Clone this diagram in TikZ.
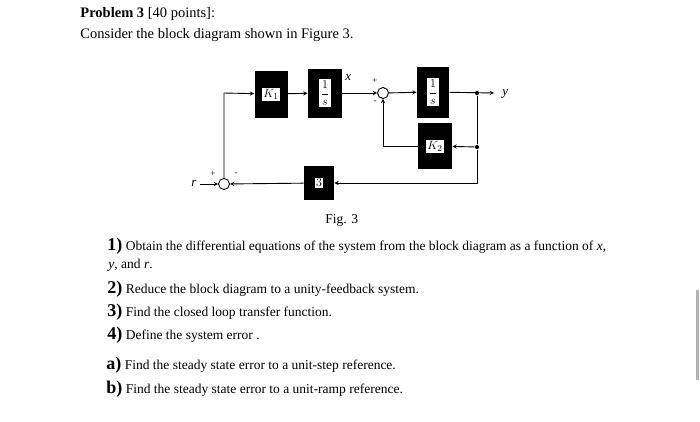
\documentclass[tikz,border=0pt]{standalone}
\usepackage{fontspec}
\setmainfont{Liberation Serif}
\usetikzlibrary{positioning}
\begin{document}
\begin{tikzpicture}
[
x=1pt, y=-1pt,
>=stealth, line width=0.9pt,
blk/.style={fill=black, inner sep=0pt, anchor=center, font=\fontsize{13}{15}\selectfont},
sumj/.style={circle, draw, minimum size=11pt, inner sep=0pt},
dot/.style={circle, fill, inner sep=1.5pt},
txt/.style={anchor=west, inner sep=0pt, font=\fontsize{13.5}{15}\selectfont},
]
\newcommand{\wbox}[1]{\setlength{\fboxsep}{1.5pt}\colorbox{white}{#1}}
\useasboundingbox (0,0) rectangle (700,421);

\node (head) [txt, font=\fontsize{14.5}{16}\selectfont] at (80,14) {\textbf{Problem 3} [40 points]:};
\node (task) [txt, font=\fontsize{14.5}{16}\selectfont] at (80,35) {Consider the block diagram shown in Figure 3.};

% blocks
\node (k1) [blk, minimum width=33pt, minimum height=47pt] at (271,94) {\wbox{$K_1$}};
\node (ia) [blk, minimum width=34pt, minimum height=49pt] at (325,93) {\wbox{$\displaystyle\frac{1}{s}$}};
\node (sb) [sumj] at (383,93) {};
\node (ib) [blk, minimum width=32pt, minimum height=51pt] at (433,92) {\wbox{$\displaystyle\frac{1}{s}$}};
\node (k2) [blk, minimum width=34pt, minimum height=46pt] at (435,146) {\wbox{$K_2$}};
\node (th) [blk, minimum width=30pt, minimum height=34pt] at (319,183) {\wbox{$3$}};
\node (sa) [sumj] at (224,184) {};
\node (py) [dot] at (477,93) {};
\node (pk) [dot] at (477,147) {};
\coordinate (rin) at (200,184);
\coordinate (yout) at (494,93);

% connectors
\draw [->] (rin) -- (sa);
\draw [->] (sa) -- (224,93) -- (k1);
\draw [->] (k1) -- (ia);
\draw [->] (ia) -- (sb);
\draw [->] (sb) -- (ib);
\draw [->] (ib) -- (yout);
\draw (py) -- (pk);
\draw [->] (pk) -- (k2);
\draw [->] (k2.west) -| (sb);
\draw [->] (pk) |- (th);
\draw [->] (th) -- (sa);

% labels
\node [txt, font=\fontsize{13}{15}\selectfont\itshape] at (502,94) {y};
\node [txt, font=\fontsize{13}{15}\selectfont\itshape] at (345,78) {x};
\node [font=\small] at (375,81) {+};
\node [font=\small] at (375,102) {-};
\node [txt, font=\fontsize{13}{15}\selectfont\itshape] at (191,183) {r};
\node [font=\small] at (213,174) {+};
\node [font=\small] at (236,174) {-};

\node (fig) [txt] at (325,220) {Fig. 3};

\node (q1) [txt] at (107,246) {\textbf{\fontsize{18}{20}\selectfont 1)} Obtain the differential equations of the system from the block diagram as a function of \textit{x},};
\node (q1b) [txt] at (108,265) {\textit{y}, and \textit{r}.};
\node (q2) [txt] at (107,289) {\textbf{\fontsize{18}{20}\selectfont 2)} Reduce the block diagram to a unity-feedback system.};
\node (q3) [txt] at (107,312) {\textbf{\fontsize{18}{20}\selectfont 3)} Find the closed loop transfer function.};
\node (q4) [txt] at (107,335) {\textbf{\fontsize{18}{20}\selectfont 4)} Define the system error .};
\node (qa) [txt] at (106,365) {\textbf{\fontsize{18}{20}\selectfont a)} Find the steady state error to a unit-step reference.};
\node (qb) [txt] at (106,389) {\textbf{\fontsize{18}{20}\selectfont b)} Find the steady state error to a unit-ramp reference.};

\fill [gray!60] (696,290) rectangle (699,380);
\end{tikzpicture}
\end{document}
